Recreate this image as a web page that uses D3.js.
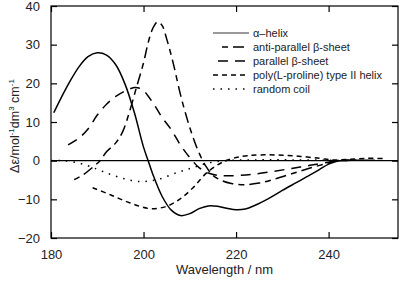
<!DOCTYPE html>
<html>
<head>
<meta charset="utf-8">
<script src="https://cdn.jsdelivr.net/npm/d3@7"></script>
<style>
body { margin: 0; background: #fff; }
svg { font-family: "Liberation Sans", Arial, sans-serif; }
.line { fill: none; stroke: #000; stroke-width: 1.5; }
</style>
</head>
<body>
<script>
// wavelength (nm) / delta epsilon pairs
var alphaHelix = [[180.6,12.4],[182,15.8],[184,20.3],[186,24.2],[188,26.9],[190,27.9],[192,27.3],[194,24.8],[196,19.8],[198,12.5],[200,3.5],[201,0],[202,-3.5],[204,-9.2],[206,-12.8],[208,-14.2],[210,-13.7],[212,-12.4],[214,-11.7],[216,-11.8],[218,-12.3],[220,-12.7],[222,-12.5],[224,-11.6],[227,-9.8],[230,-7.7],[233,-5.7],[236,-3.7],[238,-2.3],[240,-0.9],[242,-0.1],[246,0.1],[250,0.1]];
var antiParallel = [[185,-4.9],[187,-3.6],[189,-1.7],[190.6,0],[192,2.3],[194,4.6],[195.5,7.5],[197,12.8],[198.6,19.5],[200,25.3],[201,30.5],[202,34.2],[203,35.9],[204,35],[205,31.5],[206.4,25.3],[208,17],[209.6,10.1],[211,5],[212,2],[213.5,-1.5],[215,-3.8],[217,-5.2],[219,-5.9],[222,-6.2],[225,-5.8],[228,-4.9],[232,-3.4],[236,-1.9],[240,-0.6],[242,0],[246,0.1]];
var parallel = [[183.7,4.1],[186,5.8],[188,8.2],[190,11.8],[192,14.6],[194,16.6],[196,18],[198,18.9],[199,18.8],[200,18.1],[202,15],[204,11.2],[206,8],[208,4],[210,0.8],[212,-1.8],[214,-3.2],[216,-3.8],[218,-3.9],[221,-3.8],[224,-3.5],[228,-2.8],[232,-2],[236,-1.2],[240,-0.4],[242,0],[246,0.1]];
var polyProline = [[189,-7],[192.8,-8.8],[197,-10.9],[201.4,-12.4],[205,-11.8],[208,-9.8],[210.7,-7],[213.7,-3.1],[217.2,-0.3],[220,0.8],[222.5,1.3],[226,1.5],[230,1.4],[234,1.1],[238,0.6],[241,0.2],[244,0.3],[248,0.6],[252.5,0.5]];
var randomCoil = [[180,0],[182.4,0],[185.6,-0.5],[188.4,-1.5],[191.2,-2.8],[195,-4.4],[199.2,-5.4],[203,-4.9],[207.2,-3.1],[210.7,-1.8],[214,-0.6],[218,0],[225,0.2],[232,0.2],[240,0.1],[244,0]];

var seriesNames = ["α–helix","anti-parallel β-sheet","parallel β-sheet","poly(L-proline) type II helix","random coil"];
var seriesData = [alphaHelix, antiParallel, parallel, polyProline, randomCoil];
var dashes = [null, "6,5,11,5", "10,7", "5,4", "1.5,6"];

var xTicks = [180,200,220,240];
var yTicks = [-20,-10,0,10,20,30,40];

var xScale = d3.scaleLinear().domain([180,255]).range([51,398]);
var yScale = d3.scaleLinear().domain([-20,40]).range([238,6]);

var line = d3.line()
    .x(function(d){ return xScale(d[0]); })
    .y(function(d){ return yScale(d[1]); })
    .curve(d3.curveCatmullRom);

var svg = d3.select("body").append("svg")
    .attr("width", 402)
    .attr("height", 281);

// frame
svg.append("rect")
    .attr("x", 51).attr("y", 6)
    .attr("width", 347).attr("height", 232)
    .attr("fill", "none").attr("stroke", "#000").attr("stroke-width", 1.2);

// zero line
svg.append("line")
    .attr("x1", xScale(180)).attr("x2", xScale(255))
    .attr("y1", yScale(0)).attr("y2", yScale(0))
    .attr("stroke", "#000").attr("stroke-width", 1.2);

var styleAxis = function(g){
    g.select(".domain").remove();
    g.selectAll("line").attr("stroke", "#000").attr("stroke-width", 1.2);
    g.selectAll("text").attr("fill", "#222").style("font-size", "13px");
};

var xAxis = d3.axisBottom(xScale).tickValues(xTicks).tickSize(-6).tickPadding(12);
svg.append("g").attr("transform", "translate(0,238)").call(xAxis).call(styleAxis);
svg.append("g").attr("transform", "translate(0,6)")
    .call(d3.axisTop(xScale).tickValues(xTicks).tickSize(-6).tickFormat(""))
    .call(styleAxis);

var yAxis = d3.axisLeft(yScale).tickValues(yTicks).tickSize(-6).tickPadding(11);
svg.append("g").attr("transform", "translate(51,0)").call(yAxis).call(styleAxis);
svg.append("g").attr("transform", "translate(398,0)")
    .call(d3.axisRight(yScale).tickValues(yTicks).tickSize(-6).tickFormat(""))
    .call(styleAxis);

// curves
seriesData.forEach(function(s, i){
    svg.append("path").datum(s)
        .classed("line", true)
        .attr("stroke-dasharray", dashes[i])
        .attr("d", line);
});

// legend
var legend = svg.append("g").attr("transform", "translate(213,33)");
seriesNames.forEach(function(name, i){
    var row = legend.append("g").attr("transform", "translate(0," + (i*14) + ")");
    row.append("line")
        .attr("x1", i == 1 ? 9 : (i == 2 ? 5 : 0)).attr("x2", 36)
        .attr("y1", 0).attr("y2", 0)
        .attr("stroke", "#000").attr("stroke-width", i == 0 ? 0.8 : 1.3)
        .attr("stroke-dasharray", dashes[i]);
    row.append("text")
        .attr("x", 40).attr("y", 4)
        .attr("fill", "#222")
        .style("font-size", "11px")
        .text(name);
});

// axis titles
svg.append("text")
    .attr("x", 224.5).attr("y", 274)
    .attr("text-anchor", "middle")
    .attr("fill", "#222")
    .style("font-size", "13px")
    .text("Wavelength / nm");

var yTitle = svg.append("text")
    .attr("transform", "translate(19,126) rotate(-90)")
    .attr("text-anchor", "middle")
    .attr("fill", "#222")
    .style("font-size", "12.5px");
yTitle.append("tspan").text("Δε/mol");
yTitle.append("tspan").attr("dy", -5).style("font-size", "8px").text("-1");
yTitle.append("tspan").attr("dy", 5).text("dm");
yTitle.append("tspan").attr("dy", -5).style("font-size", "8px").text("3");
yTitle.append("tspan").attr("dy", 5).text(" cm");
yTitle.append("tspan").attr("dy", -5).style("font-size", "8px").text("-1");
</script>
</body>
</html>
